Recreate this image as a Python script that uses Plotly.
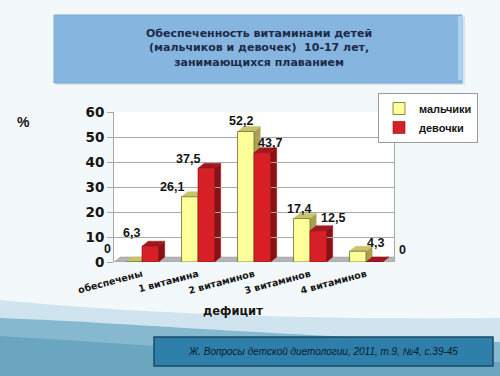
import plotly.graph_objects as go

categories = ["обеспечены", "1 витамина", "2 витаминов", "3 витаминов", "4 витаминов"]
boys = [0, 26.1, 52.2, 17.4, 4.3]
girls = [6.3, 37.5, 43.7, 12.5, 0]
boys_labels = ["0", "26,1", "52,2", "17,4", "4,3"]
girls_labels = ["6,3", "37,5", "43,7", "12,5", "0"]
series_names = ["мальчики", "девочки"]
y_ticks = [0, 10, 20, 30, 40, 50, 60]

W, H = 500, 376
def px(x): return x / W
def py(y): return 1 - y / H

BARGAP = 0.41
bw = (1 - BARGAP) / 2
DX, DY = 0.11, 2.0  # 3D depth in data units

YEL = "#ffff99"; YEL_TOP = "#c9c36a"; YEL_SIDE = "#a8a24e"
RED = "#d91f26"; RED_TOP = "#a3161b"; RED_SIDE = "#8c1116"

fig = go.Figure()
fig.add_trace(go.Bar(x=list(range(len(categories))), y=boys, name=series_names[0],
                     marker=dict(color=YEL, line=dict(color="#6b6b3a", width=0.8))))
fig.add_trace(go.Bar(x=list(range(len(categories))), y=girls, name=series_names[1],
                     marker=dict(color=RED, line=dict(color="#7a1014", width=0.6))))

shapes = []
# background
shapes.append(dict(type="path", xref="paper", yref="paper", layer="below",
                   path=f"M 0,{py(300)} C {px(150)},{py(315)} {px(330)},{py(320)} 1,{py(318)} L 1,0 L 0,0 Z",
                   fillcolor="#cfe4ee", line=dict(width=0)))
shapes.append(dict(type="path", xref="paper", yref="paper", layer="below",
                   path=f"M 0,{py(318)} C {px(120)},{py(322)} {px(300)},{py(338)} 1,{py(342)} L 1,0 L 0,0 Z",
                   fillcolor="#86b9cf", line=dict(width=0)))
shapes.append(dict(type="path", xref="paper", yref="paper", layer="below",
                   path=f"M 0,{py(336)} C {px(150)},{py(345)} {px(330)},{py(360)} 1,{py(362)} L 1,0 L 0,0 Z",
                   fillcolor="#6aa6c0", line=dict(width=0)))
# title box
shapes.append(dict(type="rect", xref="paper", yref="paper", layer="below",
                   x0=px(56), x1=px(465), y0=py(85), y1=py(17),
                   fillcolor="#d8e2ea", line=dict(width=0)))
shapes.append(dict(type="rect", xref="paper", yref="paper", layer="below",
                   x0=px(54), x1=px(462), y0=py(83), y1=py(15),
                   fillcolor="#86b6e0", line=dict(color="#7da9d2", width=1)))
shapes.append(dict(type="rect", xref="paper", yref="paper", layer="below",
                   x0=px(458), x1=px(462), y0=py(80), y1=py(16),
                   fillcolor="#a9d2f2", line=dict(width=0)))
# citation box
shapes.append(dict(type="rect", xref="paper", yref="paper", layer="below",
                   x0=px(154), x1=px(493), y0=py(366), y1=py(337),
                   fillcolor="#2f7fab", line=dict(color="#1b4a66", width=1.5)))
# floor
n = len(categories)
shapes.append(dict(type="path", xref="x", yref="y", layer="below",
                   path=f"M -0.5,0 L {n-0.5},0 L {n-0.5+DX},{DY} L {-0.5+DX},{DY} Z",
                   fillcolor="#b5b5b5", line=dict(color="#999", width=0.5)))

# 3D faces derived from data
for i in range(n):
    for vals, off, top, side in [(boys, -bw/2, YEL_TOP, YEL_SIDE), (girls, bw/2, RED_TOP, RED_SIDE)]:
        v = vals[i]
        c = i + off
        l, r = c - bw/2, c + bw/2
        shapes.append(dict(type="path", xref="x", yref="y", layer="below",
                           path=f"M {r},0 L {r},{v} L {r+DX},{v+DY} L {r+DX},{DY} Z",
                           fillcolor=side, line=dict(color=side, width=0.5)))
        shapes.append(dict(type="path", xref="x", yref="y", layer="below",
                           path=f"M {l},{v} L {r},{v} L {r+DX},{v+DY} L {l+DX},{v+DY} Z",
                           fillcolor=top, line=dict(color=top, width=0.5)))

annotations = []
lbl_font = dict(family="Liberation Sans, Arial", size=12.5, color="#151515", weight="bold")
boy_shift = [(-26, 13), (-18, 10), (-5, 11), (-3, 10), (18, 8)]
girl_shift = [(-19, 13), (-18, 9), (8, 10), (15, 13), (28, 12)]
for i in range(n):
    annotations.append(dict(x=i - bw/2, y=boys[i], xref="x", yref="y", text=boys_labels[i],
                            showarrow=False, xshift=boy_shift[i][0], yshift=boy_shift[i][1],
                            font=lbl_font))
    annotations.append(dict(x=i + bw/2, y=girls[i], xref="x", yref="y", text=girls_labels[i],
                            showarrow=False, xshift=girl_shift[i][0], yshift=girl_shift[i][1],
                            font=lbl_font))

annotations.append(dict(x=px(259), y=py(48), xref="paper", yref="paper", showarrow=False,
                        xanchor="center", yanchor="middle",
                        text="Обеспеченность витаминами детей<br>(мальчиков и девочек)  10-17 лет,<br>занимающихся плаванием",
                        font=dict(family="DejaVu Sans", size=11, color="#1d2a48", weight="bold"),
                        align="center"))
annotations.append(dict(x=px(23), y=py(122), xref="paper", yref="paper", showarrow=False,
                        xanchor="center", yanchor="middle",
                        text="%", font=dict(family="Liberation Sans, Arial", size=14, color="#151515", weight="bold")))
annotations.append(dict(x=px(233), y=py(311), xref="paper", yref="paper", showarrow=False,
                        xanchor="center", yanchor="middle",
                        text="дефицит", font=dict(family="DejaVu Sans", size=11.5, color="#151515", weight="bold")))
annotations.append(dict(x=px(323), y=py(351), xref="paper", yref="paper", showarrow=False,
                        xanchor="center", yanchor="middle",
                        text="Ж. Вопросы детской диетологии, 2011, т.9, №4, с.39-45",
                        font=dict(family="Liberation Sans, Arial", size=10, color="#0b1c2c", style="italic")))

fig.update_layout(
    width=W, height=H,
    margin=dict(l=0, r=0, t=0, b=0, autoexpand=False),
    paper_bgcolor="#f3f8fb",
    plot_bgcolor="#ffffff",
    barmode="group", bargap=BARGAP, bargroupgap=0,
    shapes=shapes, annotations=annotations,
    legend=dict(x=px(378), y=py(93), xanchor="left", yanchor="top",
                bgcolor="#ffffff", bordercolor="#9a9a9a", borderwidth=1,
                font=dict(family="Liberation Sans, Arial", size=11, color="#151515", weight="bold"),
                itemwidth=30, tracegroupgap=2),
    xaxis=dict(domain=[px(114), px(394)], range=[-0.5, n - 0.5], automargin=False,
               tickmode="array", tickvals=list(range(n)), ticktext=categories,
               tickangle=-15, showgrid=False, zeroline=False, showline=False,
               ticklabelstandoff=4,
               tickfont=dict(family="DejaVu Sans", size=9.5, color="#151515", weight="bold")),
    yaxis=dict(domain=[py(262), py(112)], range=[0, 60], tickvals=y_ticks, automargin=False,
               showgrid=True, gridcolor="#a8a8a8", gridwidth=1, zeroline=False,
               showline=True, linecolor="#a8a8a8", mirror=True,
               ticks="outside", ticklen=6, tickcolor="#a8a8a8",
               tickfont=dict(family="DejaVu Sans", size=13.5, color="#151515", weight="bold")),
)

fig.write_html("out.html", config={"displayModeBar": False},
               post_script="document.body.style.margin='0';document.body.style.padding='0';")
